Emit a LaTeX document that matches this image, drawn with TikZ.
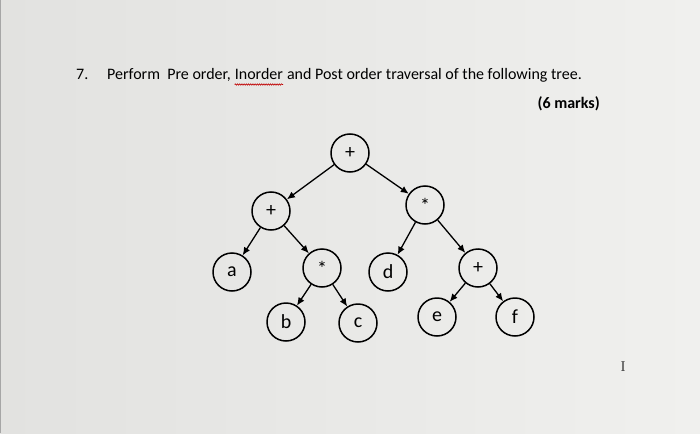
\documentclass[tikz,border=0pt]{standalone}
\usepackage{fontspec}
\setmainfont{Carlito}
\newfontfamily\cursorfont{Liberation Serif}
\usetikzlibrary{arrows.meta,decorations.pathmorphing}

\begin{document}
\begin{tikzpicture}[x=1pt, y=-1pt,
    vertex/.style={circle, draw, line width=1.5pt, minimum size=38pt, inner sep=0pt, font=\fontsize{20}{20}\selectfont},
    edge/.style={line width=1.3pt, -{Latex[length=8pt,width=7pt]}},
    txt/.style={inner sep=0pt, font=\fontsize{16}{19}\selectfont}]
% Nền (ảnh chụp màn hình)
\useasboundingbox (0,0) rectangle (700,433);
\shade[left color={rgb,255:red,226;green,226;blue,224}, right color={rgb,255:red,240;green,240;blue,238}] (0,0) rectangle (700,433);
\draw[gray!70, line width=1.2pt] (0.6,0) -- (0.6,433);

% Đề bài
\node[txt, anchor=base west] (num) at (76,80) {7.};
\node[txt, anchor=base west] (q1) at (107,80) {Perform\ \ Pre order,};
\node[txt, anchor=base west, xshift=3.6pt] (q2) at (q1.base east) {Inorder};
\node[txt, anchor=base west, xshift=3.6pt] (q3) at (q2.base east) {and Post order traversal of the following tree.};
\draw[red!75!black, line width=0.6pt, decorate, decoration={snake, amplitude=0.7pt, segment length=2.2pt}]
    ([yshift=-4.5pt]q2.base west) -- ([yshift=-4.5pt]q2.base east);
\node[txt, font=\fontsize{16}{19}\selectfont\bfseries, anchor=base east] (marks) at (600,108) {(6 marks)};

% Các đỉnh của cây
\node[vertex] (root)  at (350,153) {+};
\node[vertex] (lplus) at (271,211) {+};
\node[vertex] (rstar) at (425,205) {*};
\node[vertex] (a)     at (232,272) {a};
\node[vertex] (mstar) at (322,268) {*};
\node[vertex] (d)     at (388,272) {d};
\node[vertex] (rplus) at (478,268) {+};
\node[vertex] (b)     at (286,322) {b};
\node[vertex] (c)     at (358,323) {c};
\node[vertex] (e)     at (437,317) {e};
\node[vertex] (f)     at (515,317) {f};

% Các cạnh
\foreach \p/\q in {root/lplus, root/rstar, lplus/a, lplus/mstar, rstar/d, rstar/rplus,
                   mstar/b, mstar/c, rplus/e, rplus/f} {
    \draw[edge] (\p) -- (\q);
}

% Con trỏ chuột
\node[font=\fontsize{15}{15}\cursorfont, text=black!75] (cursor) at (623,367) {I};
\end{tikzpicture}
\end{document}
